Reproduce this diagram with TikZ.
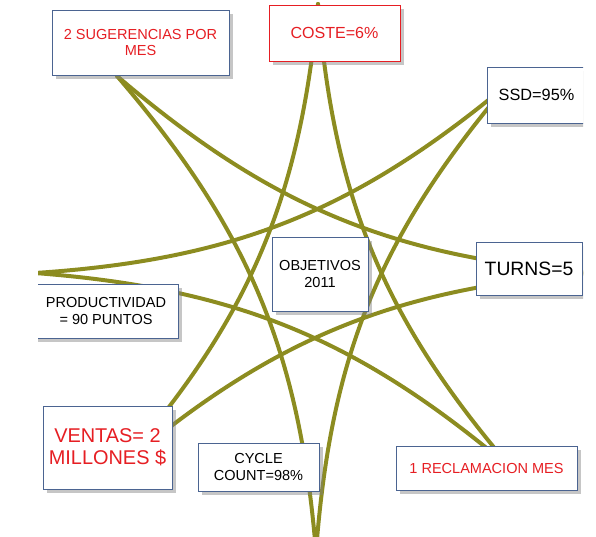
\documentclass[tikz,border=0pt]{standalone}
\usepackage{fontspec}
\setmainfont{Liberation Sans}
\usetikzlibrary{shadows}

\definecolor{starline}{RGB}{140,140,32}
\definecolor{boxline}{RGB}{75,100,145}
\definecolor{goalred}{RGB}{230,30,35}

\begin{document}
\begin{tikzpicture}[x=0.03cm, y=0.03cm,
    goal/.style={draw=boxline, line width=0.8pt, fill=white, align=center, inner sep=2pt,
      drop shadow={shadow xshift=0.11cm, shadow yshift=-0.11cm, opacity=0.45}},
    sz/.style 2 args={minimum width=#1*0.03cm, minimum height=#2*0.03cm},
    small/.style={font=\fontsize{12.4}{14.5}\selectfont},
    link/.style={draw=starline, line width=3.4pt, line cap=round}]
  \useasboundingbox (0,0) rectangle (596,-536);
  \begin{scope}
  \clip (38,0) rectangle (583,-536);
  % star points
  \coordinate (p1) at (117,-76);
  \coordinate (p2) at (318,-4);
  \coordinate (p3) at (508,-84);
  \coordinate (p4) at (592,-273);
  \coordinate (p5) at (513,-470);
  \coordinate (p6) at (316,-552);
  \coordinate (p7) at (117,-470);
  \coordinate (p8) at (35,-273);
  \path[link, bend right=18]
    (p1) edge (p4)
    (p4) edge (p7)
    (p7) edge (p2)
    (p2) edge (p5)
    (p5) edge (p8)
    (p8) edge (p3)
    (p3) edge (p6)
    (p6) edge (p1);
  % goals
  \node[goal, sz={96}{74}, small] (obj) at (320,-274) {OBJETIVOS\\2011};
  \node[goal, sz={177}{65}, small, text=goalred] (sug) at (140.5,-42.5) {2 SUGERENCIAS POR\\MES};
  \node[goal, sz={131}{56}, draw=goalred, text=goalred, font=\fontsize{13.7}{16}\selectfont] (coste) at (334.5,-33) {COSTE=6\%};
  \node[goal, sz={99}{56}, font=\fontsize{13.9}{16}\selectfont] (ssd) at (536.5,-95) {SSD=95\%};
  \node[goal, sz={106}{53}, font=\fontsize{16.5}{19}\selectfont] (turns) at (529,-268.5) {TURNS=5};
  \node[goal, sz={181}{44}, small, text=goalred] (recl) at (486.5,-468) {1 RECLAMACION MES};
  \node[goal, sz={121}{48}, small] (cycle) at (258.5,-467) {CYCLE\\COUNT=98\%};
  \node[goal, sz={129}{83}, text=goalred, font=\fontsize{17}{18.8}\selectfont] (ventas) at (107.5,-447.5) {VENTAS= 2\\MILLONES \$};
  \node[goal, sz={144}{54}, small] (prod) at (106,-311) {PRODUCTIVIDAD\\= 90 PUNTOS};
  \end{scope}
\end{tikzpicture}
\end{document}
